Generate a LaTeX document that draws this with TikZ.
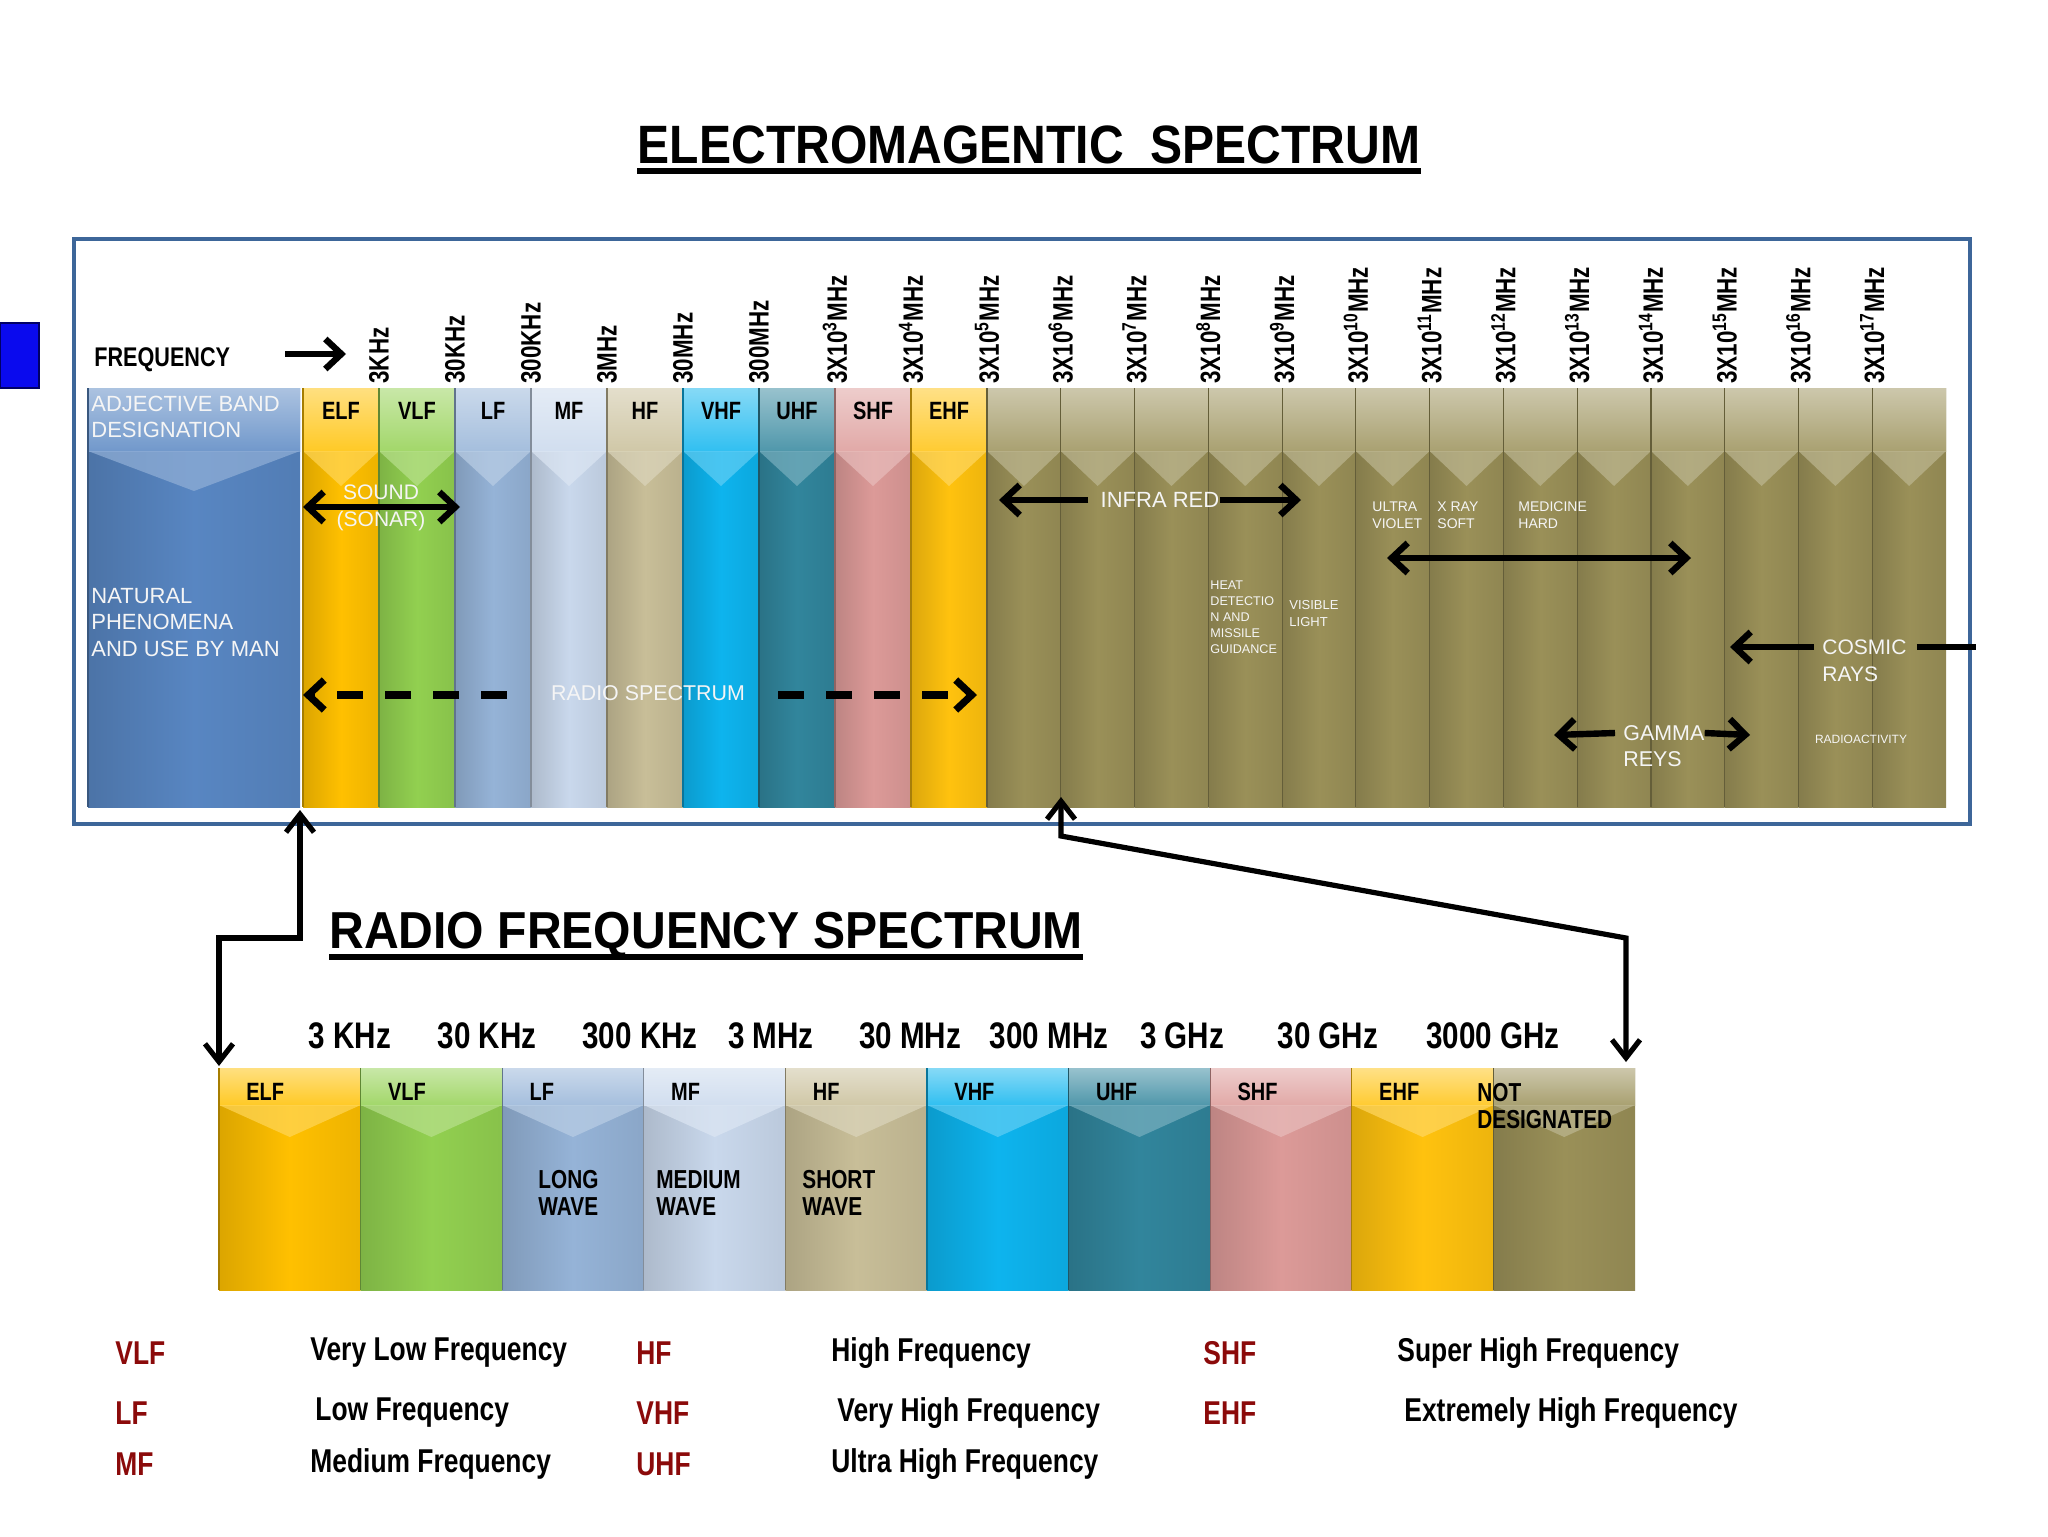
\documentclass[tikz,border=0pt]{standalone}
\usepackage{fontspec}
\setmainfont{Liberation Sans}
\newfontfamily\nar[FakeStretch=0.8]{Liberation Sans}
\newfontfamily\ttl[FakeStretch=0.89]{Liberation Sans}
\newfontfamily\ttlr[FakeStretch=0.925]{Liberation Sans}
\usetikzlibrary{arrows.meta}
\newcommand\fsz[2]{\fontsize{#1}{#2}\selectfont}
\definecolor{frameblue}{HTML}{3D6699}
\definecolor{cadj}{HTML}{5886C2}
\definecolor{celf}{HTML}{FFC000}
\definecolor{cvlf}{HTML}{92D050}
\definecolor{clf}{HTML}{95B3D7}
\definecolor{cmf}{HTML}{C9D8EC}
\definecolor{chf}{HTML}{C8BE98}
\definecolor{cvhf}{HTML}{0DB4EE}
\definecolor{cuhf}{HTML}{31859C}
\definecolor{cshf}{HTML}{DC9A98}
\definecolor{cehf}{HTML}{FFC20E}
\definecolor{colive}{HTML}{9A9058}
\definecolor{legred}{HTML}{8B0A0A}
\definecolor{sqblue}{HTML}{0A0AEE}
% x0, x1, ytop, capbottom, ybottom, colour, name, V depth
\newcommand\bandcol[8]{%
  \shade[left color=#6!86!black, right color=#6!93!black, middle color=#6] (#1,#3) rectangle (#2,#5);
  \shade[top color=#6!50!white, bottom color=#6!85!white] (#1,#3) rectangle (#2,#4);
  \fill[#6!65!white, opacity=0.7] (#1,#4) -- (#2,#4) -- ({(#1+#2)/2},{#4+#8}) -- cycle;
  \draw[#6!65!black, line width=0.6pt] (#1,#3) -- (#1,#5);
  \coordinate (#7) at ({(#1+#2)/2},#4);
}
\tikzset{
  bandlab/.style={font=\nar\bfseries\fsz{12.5}{14}, text=black, inner sep=0},
  freqlab/.style={font=\nar\bfseries\fsz{14}{16}, rotate=90, anchor=west, inner sep=0},
  wtxt/.style={text=white!92!gray, inner sep=0, align=left},
  arr/.style={line width=3.2pt, -{Straight Barb[length=8pt,width=15pt]}},
  darr/.style={line width=3.2pt, {Straight Barb[length=8pt,width=15pt]}-{Straight Barb[length=8pt,width=15pt]}},
  conn/.style={line width=2.6pt, {Straight Barb[length=9pt,width=14pt]}-{Straight Barb[length=9pt,width=14pt]}},
  dashedarr/.style={line width=3.6pt, dash pattern=on 13pt off 11pt, -{Straight Barb[length=8pt,width=15pt]}},
  bfreq/.style={font=\nar\bfseries\fsz{18.5}{20}, inner sep=0},
  blab/.style={font=\nar\bfseries\fsz{12.5}{14}, anchor=west, inner sep=0},
  bwave/.style={font=\nar\bfseries\fsz{13}{13.5}, anchor=north west, inner sep=0, align=left},
  legab/.style={font=\nar\bfseries\fsz{16.5}{18}, text=legred, anchor=west, inner sep=0},
  legtx/.style={font=\nar\bfseries\fsz{16.5}{18}, anchor=west, inner sep=0},
}
\begin{document}
\begin{tikzpicture}[x=0.5pt,y=-0.5pt]
\useasboundingbox (0,0) rectangle (2048,1536);
\fill[white] (0,0) rectangle (2048,1536);

% title
\node[font=\ttl\bfseries\fsz{27}{30}, inner sep=0, anchor=base] (title) at (1029,163) {ELECTROMAGENTIC\ \ SPECTRUM};
\draw[line width=2.6pt] ([yshift=-4pt]title.base west) -- ([yshift=-4pt]title.base east);

% small blue square
\draw[fill=sqblue, draw=black!60!blue, line width=1pt] (0,323) rectangle (39,388);

% frame
\draw[frameblue, line width=2.2pt] (74,239) rectangle (1970,824);

% frequency
\node[font=\nar\bfseries\fsz{13.5}{14}, anchor=west, inner sep=0] (freq) at (94,360) {FREQUENCY};
\coordinate (fqA) at (285,354);
\coordinate (fqB) at (346,354);
\draw[arr] (fqA) -- (fqB);

% upper band
\bandcol{88}{300}{388}{451}{807}{cadj}{uadj}{40}
\foreach \c [count=\i from 0] in {celf,cvlf,clf,cmf,chf,cvhf,cuhf,cshf,cehf}{
  \pgfmathsetmacro\xa{303+76*\i}
  \pgfmathsetmacro\xb{\xa+76}
  \bandcol{\xa}{\xb}{388}{451}{807}{\c}{u\i}{35}
}
\foreach \i in {0,...,12}{
  \pgfmathsetmacro\xa{987+73.77*\i}
  \pgfmathsetmacro\xb{\xa+73.77}
  \bandcol{\xa}{\xb}{388}{451}{807}{colive}{o\i}{35}
}
\foreach \lab [count=\i from 0] in {ELF,VLF,LF,MF,HF,VHF,UHF,SHF,EHF}
  \node[bandlab] (ul\i) at ({341+76*\i},411) {\lab};

% rotated frequency labels
\foreach \lab [count=\i] in {3KHz,30KHz,300KHz,3MHz,30MHz,300MHz,3X10\textsuperscript{3}MHz,3X10\textsuperscript{4}MHz,3X10\textsuperscript{5}MHz}
  \node[freqlab] (fa\i) at ({303+76*\i},384) {\lab};
\foreach \i in {1,...,12}
  \node[freqlab] (fb\i) at ({987+73.77*\i},384) {3X10\textsuperscript{\the\numexpr\i+5\relax}MHz};

% left column texts
\node[wtxt, font=\fsz{11}{13}, anchor=north west] (adj) at (91,396) {ADJECTIVE BAND\\DESIGNATION};
\node[wtxt, font=\fsz{11}{13.2}, anchor=north west] (nat) at (91,588) {NATURAL\\PHENOMENA\\AND USE BY MAN};

% sound
\coordinate (sndL) at (303,507);
\coordinate (sndR) at (460,507);
\draw[darr] (sndL) -- (sndR);
\node[wtxt, font=\fsz{10.5}{13.5}, align=center] (sound) at (381,508) {SOUND\\(SONAR)};

% infra red
\node[wtxt, font=\fsz{11}{13}] (ir) at (1160,500) {INFRA RED};
\coordinate (irL) at (999,500);
\coordinate (irR) at (1301,500);
\draw[arr] ([xshift=-6pt]ir.west) -- (irL);
\draw[arr] (ir.east) -- (irR);

% UV / X-ray / medicine
\node[wtxt, font=\fsz{7}{8.5}, anchor=north west] (uv) at (1372,501) {ULTRA\\VIOLET};
\node[wtxt, font=\fsz{7}{8.5}, anchor=north west] (xray) at (1437,501) {X RAY\\SOFT};
\node[wtxt, font=\fsz{7}{8.5}, anchor=north west] (med) at (1518,501) {MEDICINE\\HARD};
\coordinate (uvL) at (1387,558);
\coordinate (uvR) at (1691,558);
\draw[darr] (uvL) -- (uvR);

% heat / visible
\node[wtxt, font=\fsz{6.3}{8}, anchor=north west] (heat) at (1210,580) {HEAT\\DETECTIO\\N AND\\MISSILE\\GUIDANCE};
\node[wtxt, font=\fsz{6.5}{8.5}, anchor=north west] (vis) at (1289,600) {VISIBLE\\LIGHT};

% cosmic rays
\node[wtxt, font=\fsz{10.5}{13}, anchor=west] (cosmic) at (1822,647) {COSMIC};
\node[wtxt, font=\fsz{10.5}{13}, anchor=west] (rays) at (1822,674) {RAYS};
\coordinate (cosL) at (1730,647);
\coordinate (cosR) at (1976,647);
\draw[arr] ([xshift=-4pt]cosmic.west) -- (cosL);
\draw[line width=3.2pt] ([xshift=5pt]cosmic.east) -- (cosR);

% gamma
\node[wtxt, font=\fsz{10.7}{13}, anchor=west] (gamma) at (1623,733) {GAMMA};
\node[wtxt, font=\fsz{10.7}{13}, anchor=west] (reys) at (1623,759) {REYS};
\coordinate (gmL) at (1554,735);
\coordinate (gmR) at (1750,735);
\draw[arr] ([xshift=-4pt]gamma.west) -- (gmL);
\draw[arr] (gamma.east) -- (gmR);
\node[wtxt, font=\fsz{6}{7}] (radio) at (1861,739) {RADIOACTIVITY};

% radio spectrum
\node[wtxt, font=\fsz{10.7}{13}] (rs) at (648,693) {RADIO SPECTRUM};
\coordinate (rsL0) at (507,695);
\coordinate (rsL) at (303,695);
\coordinate (rsR0) at (778,695);
\coordinate (rsR) at (977,695);
\draw[dashedarr] (rsL0) -- (rsL);
\draw[dashedarr] (rsR0) -- (rsR);

% radio frequency spectrum title
\node[font=\ttlr\bfseries\fsz{26}{30}, anchor=base west, inner sep=0] (rtitle) at (329,948) {RADIO FREQUENCY SPECTRUM};
\draw[line width=2.6pt] ([yshift=-4.5pt]rtitle.base west) -- ([yshift=-4.5pt]rtitle.base east);

% bottom band
\foreach \c [count=\i from 0] in {celf,cvlf,clf,cmf,chf,cvhf,cuhf,cshf,cehf,colive}{
  \pgfmathsetmacro\xa{219+141.6*\i}
  \pgfmathsetmacro\xb{\xa+141.6}
  \bandcol{\xa}{\xb}{1068}{1105}{1290}{\c}{b\i}{32}
}
\foreach \lab [count=\i from 0] in {ELF,VLF,LF,MF,HF,VHF,UHF,SHF,EHF}
  \node[blab] (bl\i) at ({246+141.6*\i},1092) {\lab};
\node[bwave] (nd) at (1477,1083) {NOT\\DESIGNATED};
\node[bwave] (lw) at (538,1170) {LONG\\WAVE};
\node[bwave] (mw) at (656,1170) {MEDIUM\\WAVE};
\node[bwave] (sw) at (802,1170) {SHORT\\WAVE};

% bottom frequency labels
\node[bfreq] (bf1) at (350,1036) {3 KHz};
\node[bfreq] (bf2) at (487,1036) {30 KHz};
\node[bfreq] (bf3) at (640,1036) {300 KHz};
\node[bfreq] (bf4) at (771,1036) {3 MHz};
\node[bfreq] (bf5) at (910,1036) {30 MHz};
\node[bfreq] (bf6) at (1049,1036) {300 MHz};
\node[bfreq] (bf7) at (1182,1036) {3 GHz};
\node[bfreq] (bf8) at (1328,1036) {30 GHz};
\node[bfreq] (bf9) at (1493,1036) {3000 GHz};

% connectors
\coordinate (dnL) at (219,1066);
\coordinate (upL) at (300,810);
\draw[conn] (dnL) -- ++(0,-128) -| (upL);
\coordinate (upR) at (1061,797);
\coordinate (dnR) at (1626,1062);
\draw[conn] (upR) -- ++(0,39) -- ++(565,102) -- (dnR);

% legend
\node[legab] (lvlf) at (115,1353) {VLF};
\node[legtx] (tvlf) at (310,1353) {Very Low Frequency};
\node[legab] (llf) at (115,1413) {LF};
\node[legtx] (tlf) at (315,1413) {Low Frequency};
\node[legab] (lmf) at (115,1464) {MF};
\node[legtx] (tmf) at (310,1464) {Medium Frequency};
\node[legab] (lhf) at (636,1353) {HF};
\node[legtx] (thf) at (831,1353) {High Frequency};
\node[legab] (lvhf) at (636,1413) {VHF};
\node[legtx] (tvhf) at (837,1413) {Very High Frequency};
\node[legab] (luhf) at (636,1464) {UHF};
\node[legtx] (tuhf) at (831,1464) {Ultra High Frequency};
\node[legab] (lshf) at (1203,1353) {SHF};
\node[legtx] (tshf) at (1397,1353) {Super High Frequency};
\node[legab] (lehf) at (1203,1413) {EHF};
\node[legtx] (tehf) at (1404,1413) {Extremely High Frequency};
\end{tikzpicture}
\end{document}
